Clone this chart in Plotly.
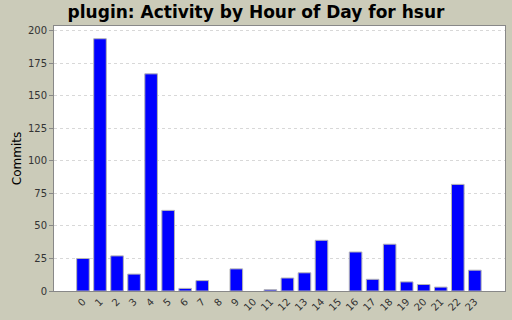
import plotly.graph_objects as go

hours = [str(h) for h in range(24)]
commits = [25, 194, 27, 13, 167, 62, 2, 8, 0, 17, 0, 1, 10, 14, 39, 0, 30, 9, 36, 7, 5, 3, 82, 16]
y_ticks = [0, 25, 50, 75, 100, 125, 150, 175, 200]

bg = "#CBCBB9"
fig = go.Figure(go.Bar(
    x=list(range(24)), y=[v if v else None for v in commits],
    marker=dict(color="#0000FF", line=dict(color="#B4B4B4", width=1)),
    width=0.74,
))
fig.update_layout(
    width=512, height=320,
    margin=dict(l=54, r=7, t=26, b=29),
    paper_bgcolor=bg, plot_bgcolor="white",
    title=dict(text="<b>plugin: Activity by Hour of Day for hsur</b>",
               x=0.5, xanchor="center", y=0.962, yanchor="middle",
               font=dict(family="DejaVu Sans", size=17, color="black")),
    showlegend=False,
    font=dict(family="DejaVu Sans", size=10, color="#333333"),
)
fig.update_xaxes(
    range=[-1.7, 24.77], tickmode="array", tickvals=list(range(24)), ticktext=hours,
    tickangle=-45, showgrid=False, showline=True, linecolor="#888888", linewidth=1,
    mirror=True, ticks="", tickfont=dict(size=10, color="#333333"),
)
fig.update_yaxes(
    range=[0, 203.8], tickmode="array", tickvals=y_ticks,
    showgrid=True, gridcolor="#D8D8D8", griddash="3px,3px", gridwidth=1,
    showline=True, linecolor="#888888", linewidth=1, mirror=True,
    ticks="outside", ticklen=4, tickcolor="#888888", zeroline=False,
    tickfont=dict(size=10, color="#333333"),
    title=dict(text="Commits", font=dict(size=12, color="black"), standoff=3),
)
fig.write_html("out.html")
